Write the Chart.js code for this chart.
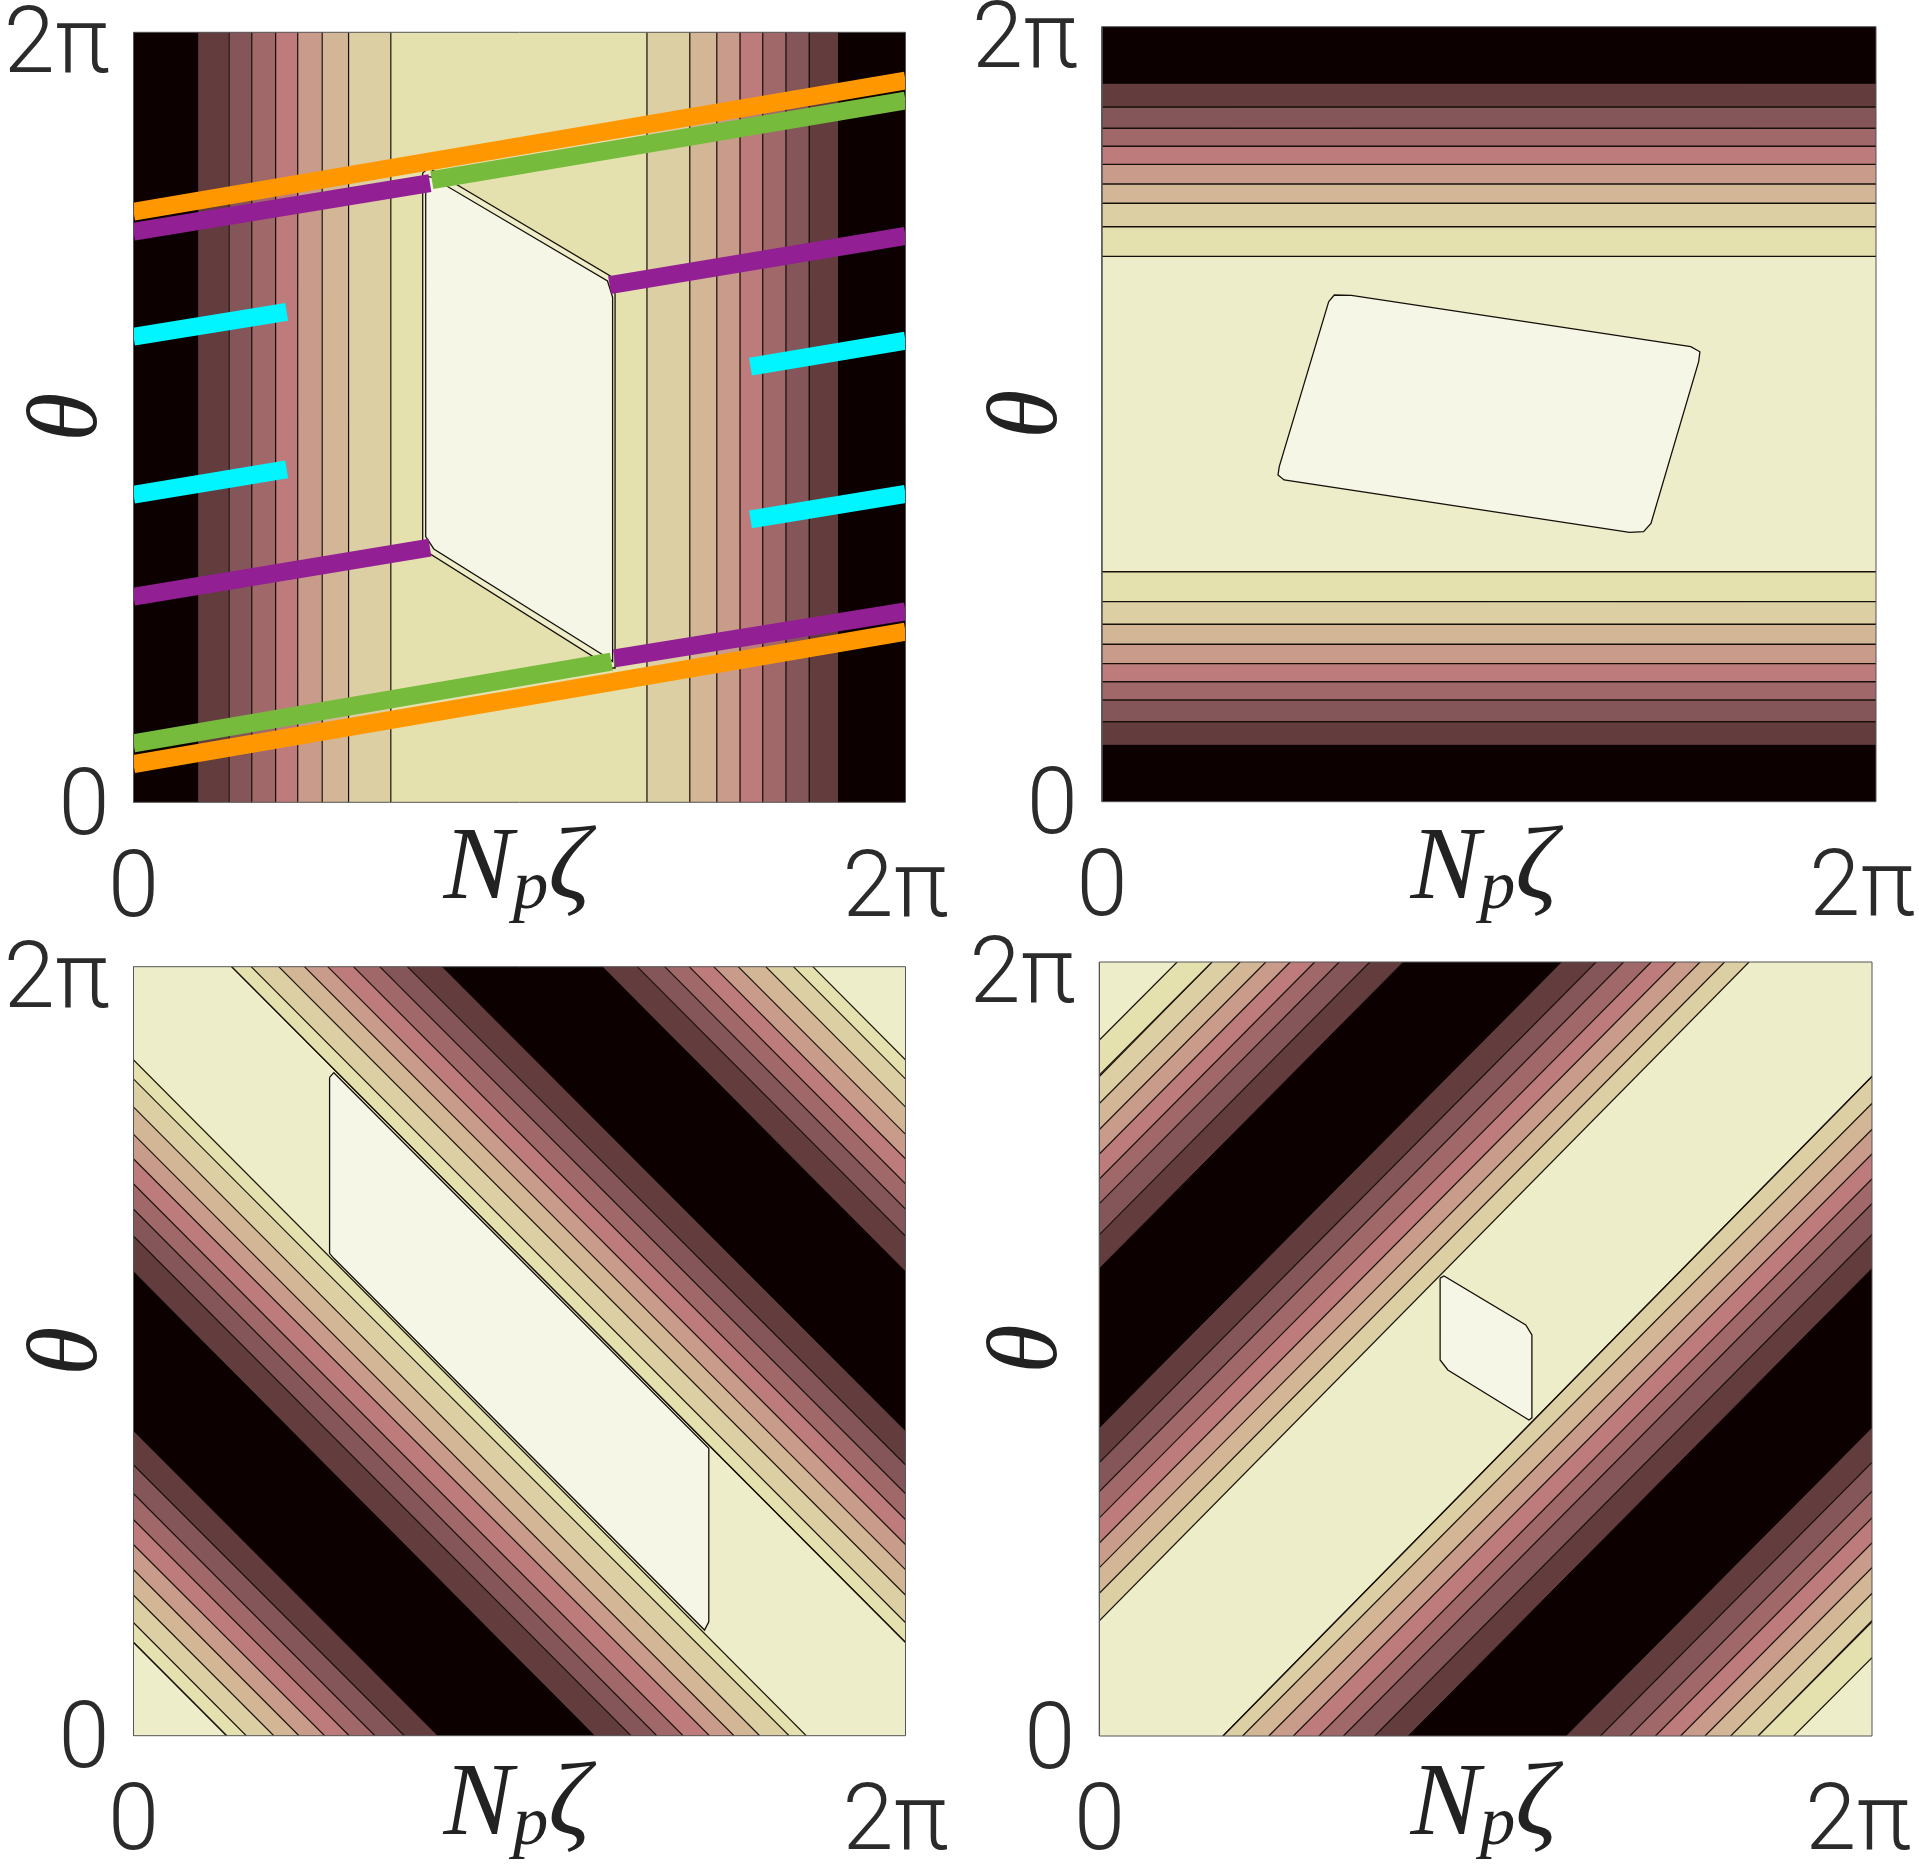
<!DOCTYPE html>
<html>
<head>
<meta charset="utf-8">
<script src="https://cdn.jsdelivr.net/npm/chart.js@4"></script>
<style>
    body { margin: 0; background: #fff; }
    #page { position: relative; width: 1919px; height: 1865px; overflow: hidden; }
    canvas { position: absolute; }
    .xlab { position: absolute; font: italic 104px "Liberation Serif"; color: #222; line-height: 1; white-space: nowrap; transform: translateX(-50%); }
    .xlab sub { font-size: 68%; vertical-align: baseline; position: relative; top: 10px; }
</style>
</head>
<body>
<div id="page">
    <canvas id="panelA" width="960" height="930" style="left:0;top:0"></canvas>
    <canvas id="panelB" width="959" height="930" style="left:960px;top:0"></canvas>
    <canvas id="panelC" width="960" height="935" style="left:0;top:930px"></canvas>
    <canvas id="panelD" width="959" height="935" style="left:960px;top:930px"></canvas>
    <div class="xlab" style="left:517px;top:811px"><i>N<sub>p</sub>ζ</i></div>
    <div class="xlab" style="left:1484px;top:811px"><i>N<sub>p</sub>ζ</i></div>
    <div class="xlab" style="left:517px;top:1747px"><i>N<sub>p</sub>ζ</i></div>
    <div class="xlab" style="left:1484px;top:1747px"><i>N<sub>p</sub>ζ</i></div>
</div>
<script>
// axes run over one period, values are fractions of 2*pi
const tickLabels = ['0', '2π'];
const shades = ['#0d0000', '#633c3e', '#855659', '#a1686a', '#bd7b7b', '#c99b8b', '#d2b695', '#dccfa4', '#e5e1af', '#ededc9', '#f5f6e5'];

// panel A: vertical bands
const aEdges = [0, .0849, .1238, .1532, .1841, .2127, .2444, .2786, .3333, .6651, .7206, .7556, .7857, .8151, .8452, .8754, .9135, 1];
const aShades = [0, 1, 2, 3, 4, 5, 6, 7, 8, 7, 6, 5, 4, 3, 2, 1, 0];
const aOuterX = [.3746, .3825, .6175, .6238, .6238, .6190, .3825, .3746];
const aOuterY = [.8173, .8238, .6835, .6600, .1744, .1744, .3238, .3406];
const aInnerX = [.3785, .3860, .6140, .6206, .6206, .6150, .3890, .3785];
const aInnerY = [.8130, .8120, .6770, .6560, .1830, .1870, .3290, .3450];
// thick segments: x0, y0, x1, y1
const orangeLines = [[0, .767, 1, .9373], [0, .0497, 1, .2216]];
const greenLines = [[.3865, .808, 1, .9114], [0, .0766, .619, .1826]];
const purpleLines = [[0, .741, .384, .804], [.6167, .6718, 1, .7355], [0, .267, .384, .3307], [.623, .187, 1, .248]];
const cyanLines = [[0, .6047, .1984, .6368], [0, .3995, .1984, .4325], [.7992, .5657, 1, .5995], [.7992, .3675, 1, .4004]];

// panel B: horizontal bands
const bEdges = [0, .0741, .1032, .1312, .1548, .1781, .2031, .2289, .2581, .2968, .7037, .7419, .7721, .7970, .8224, .8457, .8689, .8964, .9270, 1];
const bShades = [0, 1, 2, 3, 4, 5, 6, 7, 8, 9, 8, 7, 6, 5, 4, 3, 2, 1, 0];
const bPlateauX = [.2930, .3002, .3223, .7607, .7725, .7709, .7093, .6998, .6817, .2354, .2275, .2291];
const bPlateauY = [.6452, .6538, .6534, .5871, .5806, .5678, .3592, .3484, .3476, .4152, .4215, .4323];

// panel C: slanted bands, x where each contour meets the bottom and the top
const cBottom = [.1206, .1460, .1817, .2143, .2476, .2794, .3127, .3508, .3944, .5984, .6444, .6778, .7119, .7460, .7778, .8111, .8492, .8714, 1.1206];
const cTop = [-.873, -.8476, -.8119, -.7786, -.7484, -.7151, -.681, -.6452, -.6, -.3913, -.3476, -.3119, -.2802, -.2484, -.2167, -.181, -.1452, -.12, .127];
const cShades = [8, 7, 6, 5, 4, 3, 2, 1, 0, 1, 2, 3, 4, 5, 6, 7, 8, 9];
const cPlateauX = [.2540, .2595, .7452, .7452, .7397, .2595, .2540];
const cPlateauY = [.8560, .8622, .3737, .1480, .1374, .6208, .6273];

// panel D: same idea, slanting the other way
const dBottom = [.1599, .1853, .2193, .2510, .2842, .3159, .3563, .3998, .6049, .6485, .6865, .7197, .7522, .7838, .8171, .8527, 1.1599];
const dTop = [1.1457, 1.1821, 1.2154, 1.2470, 1.2787, 1.3104, 1.3500, 1.3935, 1.5994, 1.6429, 1.6785, 1.7142, 1.7458, 1.7775, 1.8092, 1.8409, 2.1457];
const dShades = [7, 6, 5, 4, 3, 2, 1, 0, 1, 2, 3, 4, 5, 6, 7, 9];
const dPlateauX = [.4410, .4460, .5519, .5598, .5598, .5560, .4510, .4410];
const dPlateauY = [.5915, .5943, .5310, .5181, .4110, .4083, .4729, .4858];
// corner pieces of panel D
const dCornerX = [[0, .1457, 0], [.8527, 1, 1], [0, .1006, 0], [.8987, 1, 1]];
const dCornerY = [[.854, 1, 1], [0, 0, .1473], [.8992, 1, 1], [0, 0, .1013]];
const dCornerShade = [8, 8, 9, 9];

const lineColor = '#17100a';

function pts(xs, ys) {
    return xs.map((x, i) => ({ x: x, y: ys[i] }));
}

function poly(xs, ys, color) {
    // closed shape, edge in its own colour to hide the seams
    const data = pts(xs.concat(xs[0]), ys.concat(ys[0]));
    return { data: data, showLine: true, fill: 'shape', backgroundColor: color, borderColor: color, borderWidth: 1, pointRadius: 0, clip: 0 };
}

function outlined(xs, ys, color) {
    const ds = poly(xs, ys, color);
    ds.borderColor = lineColor;
    ds.borderWidth = 1.3;
    return ds;
}

function contour(xs, ys, width) {
    return { data: pts(xs, ys), showLine: true, fill: false, borderColor: lineColor, borderWidth: width || 1.2, pointRadius: 0, clip: 0 };
}

function thick(segs, color) {
    return segs.map(s => ({
        data: [{ x: s[0], y: s[1] }, { x: s[2], y: s[3] }],
        showLine: true, fill: false, borderColor: color, borderWidth: 18, borderCapStyle: 'butt', pointRadius: 0, clip: 0
    }));
}

function frame() {
    return { data: pts([0, 1, 1, 0, 0], [0, 0, 1, 1, 0]), showLine: true, fill: false, borderColor: '#555', borderWidth: 1, pointRadius: 0, clip: false };
}

function slanted(bottom, top, shadeIdx) {
    const bands = [], lines = [];
    [-1, 0, 1].forEach(s => {
        shadeIdx.forEach((c, i) => {
            bands.push(poly([bottom[i] + s, bottom[i + 1] + s, top[i + 1] + s, top[i] + s], [0, 0, 1, 1], shades[c]));
        });
        bottom.forEach((b, i) => {
            const dark = shadeIdx[i] === 0 || shadeIdx[i - 1] === 0;
            if (!dark) lines.push(contour([b + s, top[i] + s], [0, 1]));
        });
    });
    return bands.concat(lines);
}

function panelA() {
    const bands = aShades.map((c, i) => poly([aEdges[i], aEdges[i + 1], aEdges[i + 1], aEdges[i]], [0, 0, 1, 1], shades[c]));
    const lines = [];
    aEdges.forEach((e, i) => {
        if (aShades[i] && aShades[i - 1]) lines.push(contour([e, e], [0, 1], 1.2));
    });
    return bands.concat(lines,
        outlined(aOuterX, aOuterY, shades[9]), outlined(aInnerX, aInnerY, shades[10]),
        thick(purpleLines, '#921f94'), thick(cyanLines, '#00f5ff'), thick(greenLines, '#77bb3c'), thick(orangeLines, '#ff9800'));
}

function panelB() {
    const bands = bShades.map((c, i) => poly([0, 1, 1, 0], [bEdges[i], bEdges[i], bEdges[i + 1], bEdges[i + 1]], shades[c]));
    const lines = [];
    bEdges.forEach((e, i) => {
        if (bShades[i] && bShades[i - 1]) lines.push(contour([0, 1], [e, e], 1.4));
    });
    return bands.concat(lines, outlined(bPlateauX, bPlateauY, shades[10]));
}

function panelC() {
    return slanted(cBottom, cTop, cShades).concat(outlined(cPlateauX, cPlateauY, shades[10]));
}

function panelD() {
    const corners = [];
    dCornerX.forEach((xs, i) => {
        corners.push(poly(xs, dCornerY[i], shades[dCornerShade[i]]));
    });
    const cornerLines = [contour([0, .1457], [.854, 1]), contour([.8527, 1], [0, .1473]), contour([0, .1006], [.8992, 1]), contour([.8987, 1], [0, .1013])];
    return slanted(dBottom, dTop, dShades).concat(corners, cornerLines, outlined(dPlateauX, dPlateauY, shades[10]));
}

// tick labels may stick out of the plot, that must not shrink the plot
function noPadding(s) {
    s.paddingTop = s.paddingBottom = s.paddingLeft = s.paddingRight = 0;
}

function drawPanel(id, box, datasets, xTick2, yTicks) {
    const canvas = document.getElementById(id);
    const list = datasets.concat(frame());
    // chart.js paints low order last, so the first dataset gets the highest
    list.forEach((ds, i) => { ds.order = list.length - i; });
    return new Chart(canvas.getContext('2d'), {
        type: 'scatter',
        data: { datasets: list },
        options: {
            responsive: false,
            animation: false,
            events: [],
            layout: {
                autoPadding: false,
                padding: { left: 0, bottom: 0, top: box.top, right: canvas.width - box.right }
            },
            elements: { line: { tension: 0 } },
            plugins: {
                legend: { display: false },
                tooltip: { enabled: false },
                filler: { drawTime: 'beforeDatasetDraw' }
            },
            scales: {
                x: {
                    type: 'linear', min: 0, max: 1,
                    grid: { display: false }, border: { display: false },
                    afterBuildTicks: s => { s.ticks = [{ value: 0 }, { value: xTick2 }]; },
                    afterFit: s => { s.height = canvas.height - box.bottom; noPadding(s); },
                    ticks: {
                        autoSkip: false, maxRotation: 0, padding: 27, color: '#2b2b2b',
                        font: { family: 'Roboto', size: 92, weight: '300' },
                        callback: (v, i) => tickLabels[i]
                    }
                },
                y: {
                    type: 'linear', min: 0, max: 1,
                    grid: { display: false }, border: { display: false },
                    afterBuildTicks: s => { s.ticks = yTicks.map(v => ({ value: v })); },
                    afterFit: s => { s.width = box.left; noPadding(s); },
                    title: {
                        display: true, text: 'θ', color: '#222', padding: { top: 10, bottom: 0 },
                        font: { family: 'Liberation Serif', style: 'italic', size: 100 }
                    },
                    ticks: {
                        autoSkip: false, padding: 16, color: '#2b2b2b',
                        font: { family: 'Roboto', size: 92, weight: '300' },
                        callback: (v, i) => tickLabels[i]
                    }
                }
            }
        }
    });
}

// labels sit a little inside the axis ends, as in the reference
const yLabelAt = [-.011, .978];
drawPanel('panelA', { left: 133.5, right: 905.5, top: 32.3, bottom: 802.3 }, panelA(), .987, yLabelAt);
drawPanel('panelB', { left: 141.9, right: 916, top: 26.7, bottom: 801.7 }, panelB(), .982, yLabelAt);
drawPanel('panelC', { left: 133.5, right: 905.5, top: 36.7, bottom: 805.7 }, panelC(), .987, yLabelAt);
drawPanel('panelD', { left: 139.4, right: 912, top: 32, bottom: 806 }, panelD(), .982, yLabelAt);
</script>
</body>
</html>
